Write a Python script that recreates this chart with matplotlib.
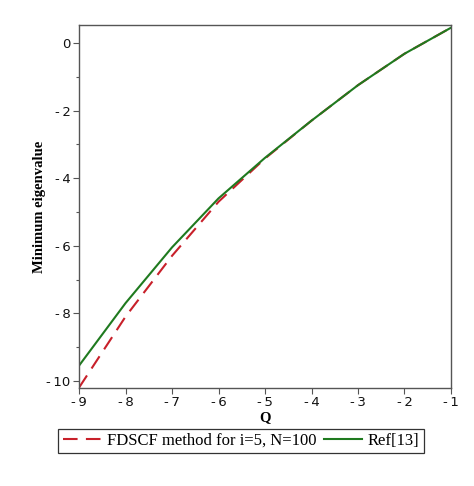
import matplotlib
matplotlib.use("Agg")
import matplotlib.pyplot as plt
from matplotlib.ticker import FixedLocator, FuncFormatter

# Data
Q = [-9, -8, -7, -6, -5, -4, -3, -2, -1]
fdscf = [-10.2, -8.1, -6.3, -4.7, -3.42, -2.3, -1.25, -0.32, 0.45]
ref13 = [-9.55, -7.7, -6.05, -4.6, -3.4, -2.3, -1.25, -0.32, 0.45]
xticks = [-9, -8, -7, -6, -5, -4, -3, -2, -1]
yticks = [0, -2, -4, -6, -8, -10]
yminor = [-1, -3, -5, -7, -9]

red = "#c8202a"
green = "#1f7a1f"

fig = plt.figure(figsize=(4.74, 4.86), dpi=100)
ax = fig.add_axes([79/474, 1-388/486, (451-79)/474, (388-25)/486])

ax.plot(Q, fdscf, color=red, lw=1.5, dashes=(7, 4), label="FDSCF method for i=5, N=100")
ax.plot(Q, ref13, color=green, lw=1.5, label="Ref[13]")

ax.set_xlim(-9, -1)
ax.set_ylim(-10.21, 0.53)

def fmt(v, pos):
    v = int(round(v))
    return "-\u2009%d" % abs(v) if v < 0 else "%d" % v

ax.xaxis.set_major_locator(FixedLocator(xticks))
ax.yaxis.set_major_locator(FixedLocator(yticks))
ax.yaxis.set_minor_locator(FixedLocator(yminor))
ax.xaxis.set_major_formatter(FuncFormatter(fmt))
ax.yaxis.set_major_formatter(FuncFormatter(fmt))
ax.tick_params(axis="both", which="major", length=4, width=0.8, color="#555555",
               labelsize=9.5, pad=2, labelcolor="#111111")
ax.tick_params(axis="y", which="minor", length=2.5, width=0.8, color="#555555")
for lab in ax.get_xticklabels() + ax.get_yticklabels():
    lab.set_family("DejaVu Sans")

for s in ax.spines.values():
    s.set_color("#555555")
    s.set_linewidth(1.0)

ax.set_xlabel("Q", family="Liberation Serif", fontweight="bold", fontsize=10.5, labelpad=1)
ax.set_ylabel("Minimum eigenvalue", family="Liberation Serif", fontweight="bold",
              fontsize=10.5, labelpad=0)

leg = fig.legend(loc="center", bbox_to_anchor=(241/474, 1-441/486), ncol=2,
                 prop={"family": "Liberation Serif", "size": 12},
                 frameon=True, fancybox=False, handlelength=2.3, columnspacing=0.45,
                 handletextpad=0.35, borderpad=0.25, borderaxespad=0)
leg.get_frame().set_edgecolor("black")
leg.get_frame().set_linewidth(0.9)

fig.savefig("out.png", dpi=100)
